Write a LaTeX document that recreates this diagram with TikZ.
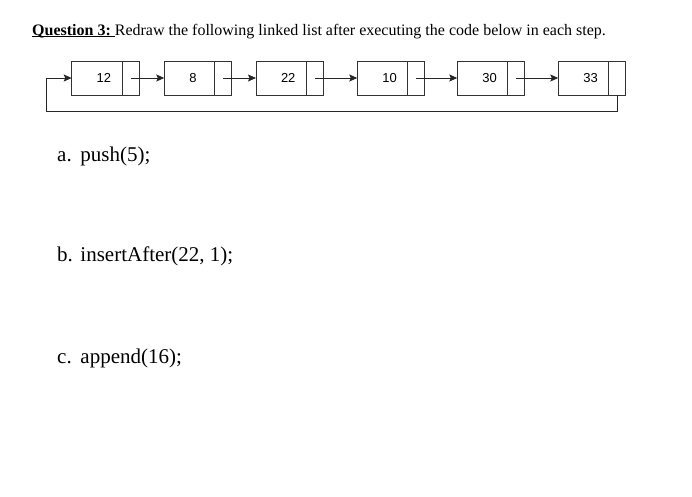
\documentclass[tikz,border=0pt]{standalone}
\usepackage{fontspec}
\setmainfont{Liberation Serif}
\newfontfamily\arialf{Liberation Sans}
\usetikzlibrary{arrows.meta}
\newcommand{\thickul}[1]{\setbox0\hbox{#1}\leavevmode\rlap{\raisebox{-2.2pt}{\rule{\wd0}{1.4pt}}}\box0}
\begin{document}
\begin{tikzpicture}[x=1pt,y=-1pt,
  line width=1pt,
  datacell/.style={draw=black!80, minimum width=50.6pt, minimum height=34pt, inner sep=0pt, outer sep=0pt, anchor=north west},
  ptrcell/.style={draw=black!80, minimum width=16.7pt, minimum height=34pt, inner sep=0pt, outer sep=0pt, anchor=west},
  num/.style={font=\arialf\fontsize{13}{15}\selectfont, anchor=west, inner sep=0pt},
  arr/.style={draw=black!85, -{Stealth[length=8pt,width=7pt,inset=1.5pt]}},
  item/.style={font=\fontsize{21}{25}\selectfont, anchor=base west, inner sep=0pt}]
\useasboundingbox (0,0) rectangle (692,496);
% title
\node[anchor=base west, inner sep=0pt, font=\fontsize{16}{19}\selectfont] (title) at (31.7,35)
  {\thickul{\textbf{Question 3:}\ }Redraw the following linked list after executing the code below in each step.};
% nodes
\foreach \i/\x/\v in {1/71.7/12, 2/164.3/8, 3/256/22, 4/357.3/10, 5/457.3/30, 6/558.3/33}{
  \node[datacell] (d\i) at (\x,61) {};
  \node[ptrcell] (p\i) at (d\i.east) {};
  \node[num] (n\i) at ([xshift=24.5]d\i.west) {\v};
}
% links
\foreach \i/\j in {1/2,2/3,3/4,4/5,5/6}{
  \draw[arr] (p\i.center) -- (d\j.west);
}
\coordinate (lb) at (46.7,111.7);
\draw[arr] (p6.south) |- (lb) |- (d1.west);
% items
\node[item] (a) at (56.7,161.7) {\makebox[23.3pt][l]{a.}push(5);};
\node[item] (b) at (56.7,261.7) {\makebox[23.3pt][l]{b.}insertAfter(22, 1);};
\node[item] (c) at (56.7,363.3) {\makebox[23.3pt][l]{c.}append(16);};
\end{tikzpicture}
\end{document}
